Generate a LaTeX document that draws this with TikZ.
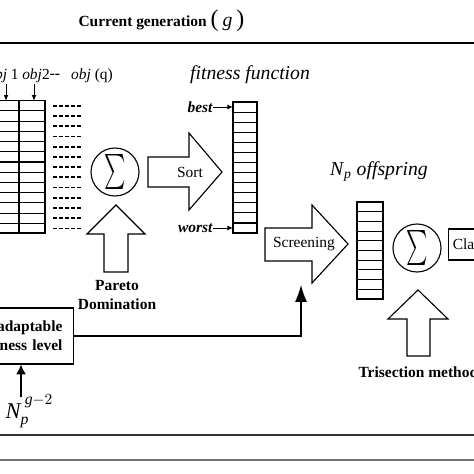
\documentclass[tikz,border=0pt]{standalone}
\usepackage{amsmath}
\usepackage{fontspec}
\setmainfont{Liberation Serif}
\usepackage{graphicx}
\usetikzlibrary{positioning,arrows.meta}

\begin{document}
\begin{tikzpicture}[x=0.025cm,y=-0.025cm, line width=0.8pt,
    lbl/.style={font=\fontsize{11}{13.5}\selectfont\bfseries,inner sep=0pt},
    txt/.style={font=\fontsize{11}{13}\selectfont,inner sep=0pt},
    big/.style={font=\fontsize{14}{16}\selectfont,inner sep=0pt},
    sig/.style={draw,circle,minimum size=1.2cm,inner sep=0pt,font=\fontsize{24}{28}\selectfont},
    dots/.style={line width=1.3pt,dash pattern=on 2.8pt off 1.4pt},
    tip/.style={-{Latex[length=4pt,width=3.5pt]},line width=0.7pt}]
  \useasboundingbox (0,0) rectangle (474,474);
  \clip (0,0) rectangle (474,474);

  % frame lines
  \draw[line width=1.2pt] (-10,43) -- (490,43);
  \draw[line width=1pt,black!80] (-10,435) -- (490,435);
  \draw[line width=0.8pt,black!55] (-10,460) -- (490,460);

  % title
  \node[lbl,anchor=base west] (title) at (78,26) {Current generation {\mdseries\fontsize{17}{19}\selectfont(\,{\fontsize{14}{16}\selectfont\itshape g}\,)}};

  % objective table
  \draw (-7,100.7) rectangle (45,233);
  \draw (19,100.7) -- (19,233);
  \foreach \i in {1,...,12}
    \draw (-7,100.7+\i*10.22) -- (45,100.7+\i*10.22);
  \foreach \i in {0,...,12}
    \draw[dots] (53,105.8+\i*10.22) -- (82,105.8+\i*10.22);
  \node[txt] (o1) at (3,76) {\textit{obj} 1};
  \node[txt] (o2) at (36,76) {\textit{obj}2};
  \node[lbl] (odots) at (55,76) {-{}-};
  \node[txt] (oq) at (92,76) {\textit{obj} (q)};
  \coordinate (t1) at (6,100.7);
  \coordinate (t2) at (34,100.7);
  \draw[tip] (o1.south -| t1) -- (t1);
  \draw[tip] (o2.south -| t2) -- (t2);

  % first sum and pareto arrow
  \node[sig] (s1) at (115,172) {\scalebox{0.58}[1]{$\sum$}};
  \draw[fill=white] (104,272) -- (104,234) -- (87,234) -- (116,205) -- (145,234) -- (128,234) -- (128,272) -- cycle;
  \node[lbl,align=center] (pareto) at (117,295) {Pareto\\Domination};

  % sort arrow
  \draw (148,157) -- (189,157) -- (189,133) -- (222,172) -- (189,210) -- (189,187) -- (148,187) -- cycle;
  \node[txt] (sort) at (190,172) {Sort};

  % fitness table
  \draw (233,102) rectangle (257,233);
  \foreach \i in {1,...,12}
    \draw (233,102+\i*10.08) -- (257,102+\i*10.08);
  \node[big] (fit) at (250,75) {\itshape fitness function};
  \node[lbl,anchor=east] (best) at (213,107) {\itshape best};
  \node[lbl,anchor=east] (worst) at (213,228) {\itshape worst};
  \coordinate (fb) at (233,107);
  \coordinate (fw) at (233,228);
  \draw[tip] (best) -- (fb);
  \draw[tip] (worst) -- (fw);

  % screening arrow
  \draw (265,228) -- (312,228) -- (312,205) -- (348,244) -- (312,283) -- (312,261) -- (265,261) -- cycle;
  \node[txt] (screen) at (304,244) {Screening};
  \coordinate (scrin) at (301,285);

  % offspring table
  \draw (357,202) rectangle (383,299);
  \foreach \i in {1,...,9}
    \draw (357,202+\i*9.7) -- (383,202+\i*9.7);
  \node[big] (off) at (379,172) {\textit{N}$_{\mathit{p}}$ \textit{offspring}};

  % second sum, classification and trisection arrow
  \node[sig] (s2) at (417,248) {\scalebox{0.58}[1]{$\sum$}};
  \node[txt,draw,anchor=west,minimum height=0.775cm,text width=2.5cm,inner xsep=3pt] (cla) at (448,244.5) {Cla};
  \draw[fill=white] (407,356) -- (407,319) -- (388,319) -- (418,290) -- (448,319) -- (430,319) -- (430,356) -- cycle;
  \node[lbl,anchor=west] (tri) at (358,372) {Trisection method};

  % fitness level box
  \node[lbl,draw,anchor=east,minimum height=1.4cm,text width=3cm,align=right,inner xsep=0.275cm] (lvl) at (74,336) {adaptable\\ness level};
  \draw[-{Latex[length=12pt,width=8.5pt]}] (lvl.east) -| (scrin);
  \node[font=\fontsize{16}{18}\selectfont,inner sep=0pt,anchor=base west] (np) at (5,418) {$\mathit{N}_{\mathit{p}}^{\mkern5mu\raisebox{3.5pt}{$\scriptstyle\mathit{g}-2$}}$};
  \coordinate (npt) at (21,397);
  \draw[-{Latex[length=7pt,width=7pt]}] (npt) -- (npt |- lvl.south);
\end{tikzpicture}
\end{document}
